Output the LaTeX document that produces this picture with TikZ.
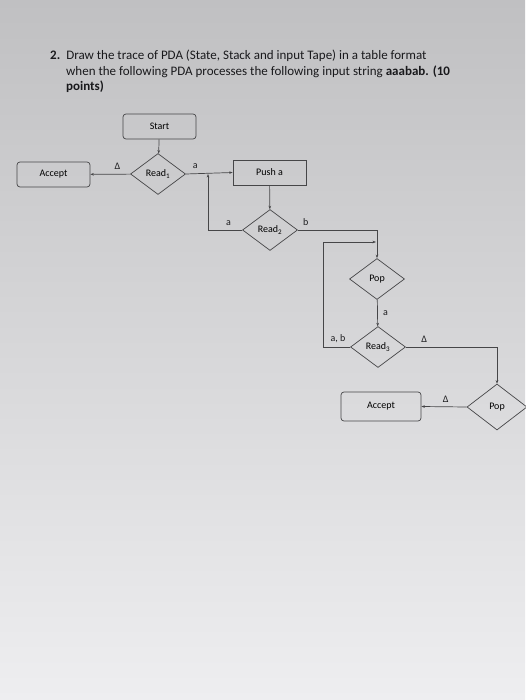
\documentclass[tikz,border=0pt]{standalone}
\usepackage{fontspec}
\setmainfont{Carlito}
\usetikzlibrary{arrows.meta,shapes.geometric}
\begin{document}
\begin{tikzpicture}[x=1pt,y=-1pt,
  ln/.style={draw={rgb,255:red,70;green,70;blue,72},line width=0.7pt},
  arr/.style={ln,-{Stealth[length=3.5pt,width=2.6pt]}},
  rbox/.style={ln,rounded corners=3pt,minimum width=73pt,minimum height=25pt,font=\fontsize{10}{12}\selectfont,inner sep=0pt},
  sbox/.style={ln,minimum width=73pt,minimum height=25pt,font=\fontsize{10}{12}\selectfont,inner sep=0pt},
  dia/.style={ln,diamond,aspect=1.35,minimum width=55pt,minimum height=41pt,inner sep=0pt,font=\fontsize{10}{12}\selectfont},
  lab/.style={font=\fontsize{10}{12}\selectfont,text={rgb,255:red,30;green,30;blue,32}},
  ttl/.style={anchor=base west,font=\fontsize{13}{15}\selectfont,text={rgb,255:red,25;green,25;blue,28},inner sep=0pt}]
\shade[top color={rgb,255:red,192;green,192;blue,194},bottom color={rgb,255:red,238;green,238;blue,240}] (0,0) rectangle (525,700);
\useasboundingbox (0,0) rectangle (525,700);
% title
\node[ttl] (t1) at (50,60) {\textbf{2.}\hspace{6pt}Draw the trace of PDA (State, Stack and input Tape) in a table format};
\node[ttl] (t2) at (66,76) {when the following PDA processes the following input string \textbf{aaabab. (10}};
\node[ttl] (t3) at (66,91) {\textbf{points)}};
% nodes
\node[rbox] (start) at (159.5,126.5) {Start};
\node[dia] (r1) at (158,174) {Read\textsubscript{1}};
\node[rbox] (acc1) at (53.5,174.5) {Accept};
\node[sbox] (push) at (269.5,172.5) {Push a};
\node[dia] (r2) at (270,230) {Read\textsubscript{2}};
\node[dia] (pop1) at (377,279) {Pop};
\node[dia] (r3) at (378,347) {Read\textsubscript{3}};
\node[dia,minimum width=60pt,minimum height=46pt] (pop2) at (497,407) {Pop};
\node[rbox,minimum width=80pt,minimum height=29pt] (acc2) at (381,406.5) {Accept};
\coordinate (j1) at (208,174);
\coordinate (j2) at (376,242);
% connectors
\draw[arr] (start) -- (r1);
\draw[arr] (r1) -- node[lab,above=1pt,pos=0.32] {Δ} (acc1);
\draw[arr] (r1.east) -- node[lab,above=1pt,pos=0.2] {a} (push.west);
\draw[arr] (push) -- (r2);
\draw[arr] (r2.west) -| node[lab,above=1pt,pos=0.2] {a} (j1);
\draw[arr] (r2.east) -| node[lab,above=1pt,pos=0.05] {b} (pop1.north);
\draw[arr] (r3.west) -- ++(-27,0) node[lab,above=1pt,pos=0.45] {a, b} |- (j2);
\draw[arr] (pop1) -- node[lab,right=2pt] {a} (r3);
\draw[arr] (r3.east) -| node[lab,above=1pt,pos=0.1] {Δ} (pop2.north);
\draw[arr] (pop2.west) -- node[lab,above=1pt,pos=0.46] {Δ} (acc2.east);
\end{tikzpicture}
\end{document}
